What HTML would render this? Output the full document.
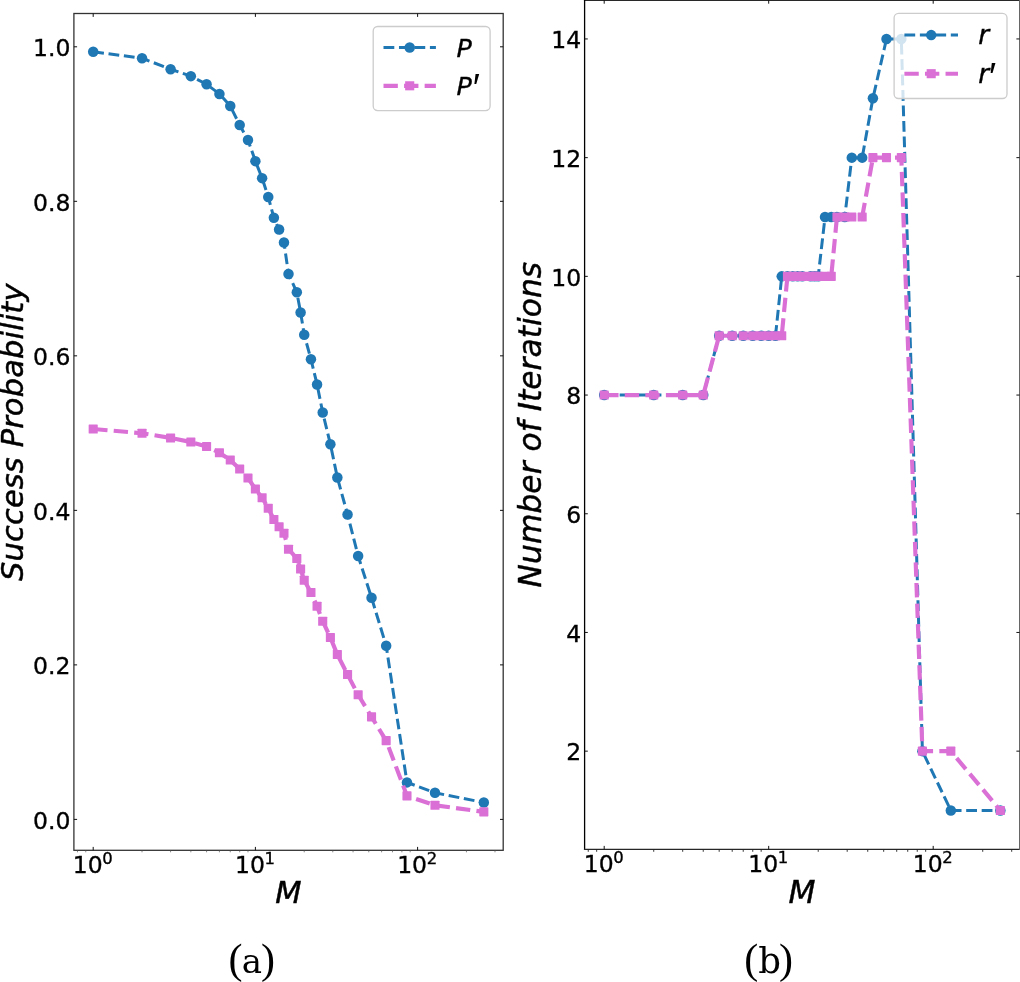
<!DOCTYPE html>
<html lang="en"><head><meta charset="utf-8"><title>Success probability and number of iterations versus M</title>
<style>html,body{margin:0;padding:0;background:#fff}svg{display:block}</style></head>
<body>
<svg width="1020" height="982" viewBox="0 0 1020 982">
<rect width="1020" height="982" fill="#fff"/>
<g>
<polyline points="93.20,51.74 142.03,58.23 170.59,69.21 190.85,76.16 206.57,84.27 219.42,93.93 230.27,105.98 239.68,124.99 247.98,139.98 255.40,161.14 262.11,178.14 268.24,196.99 273.88,217.78 279.10,229.52 283.96,242.50 288.51,274.02 296.81,292.26 300.61,312.50 304.23,334.75 310.94,359.24 317.07,384.50 322.71,412.47 330.40,444.23 337.34,477.52 347.56,514.53 358.15,556.02 371.54,597.74 386.16,645.72 406.98,782.39 434.99,792.82 483.82,802.48" fill="none" stroke="#1f77b4" stroke-width="3.0" stroke-dasharray="10.80 4.67" stroke-linejoin="round"/>
<circle cx="93.20" cy="51.74" r="5.25" fill="#1f77b4"/>
<circle cx="142.03" cy="58.23" r="5.25" fill="#1f77b4"/>
<circle cx="170.59" cy="69.21" r="5.25" fill="#1f77b4"/>
<circle cx="190.85" cy="76.16" r="5.25" fill="#1f77b4"/>
<circle cx="206.57" cy="84.27" r="5.25" fill="#1f77b4"/>
<circle cx="219.42" cy="93.93" r="5.25" fill="#1f77b4"/>
<circle cx="230.27" cy="105.98" r="5.25" fill="#1f77b4"/>
<circle cx="239.68" cy="124.99" r="5.25" fill="#1f77b4"/>
<circle cx="247.98" cy="139.98" r="5.25" fill="#1f77b4"/>
<circle cx="255.40" cy="161.14" r="5.25" fill="#1f77b4"/>
<circle cx="262.11" cy="178.14" r="5.25" fill="#1f77b4"/>
<circle cx="268.24" cy="196.99" r="5.25" fill="#1f77b4"/>
<circle cx="273.88" cy="217.78" r="5.25" fill="#1f77b4"/>
<circle cx="279.10" cy="229.52" r="5.25" fill="#1f77b4"/>
<circle cx="283.96" cy="242.50" r="5.25" fill="#1f77b4"/>
<circle cx="288.51" cy="274.02" r="5.25" fill="#1f77b4"/>
<circle cx="296.81" cy="292.26" r="5.25" fill="#1f77b4"/>
<circle cx="300.61" cy="312.50" r="5.25" fill="#1f77b4"/>
<circle cx="304.23" cy="334.75" r="5.25" fill="#1f77b4"/>
<circle cx="310.94" cy="359.24" r="5.25" fill="#1f77b4"/>
<circle cx="317.07" cy="384.50" r="5.25" fill="#1f77b4"/>
<circle cx="322.71" cy="412.47" r="5.25" fill="#1f77b4"/>
<circle cx="330.40" cy="444.23" r="5.25" fill="#1f77b4"/>
<circle cx="337.34" cy="477.52" r="5.25" fill="#1f77b4"/>
<circle cx="347.56" cy="514.53" r="5.25" fill="#1f77b4"/>
<circle cx="358.15" cy="556.02" r="5.25" fill="#1f77b4"/>
<circle cx="371.54" cy="597.74" r="5.25" fill="#1f77b4"/>
<circle cx="386.16" cy="645.72" r="5.25" fill="#1f77b4"/>
<circle cx="406.98" cy="782.39" r="5.25" fill="#1f77b4"/>
<circle cx="434.99" cy="792.82" r="5.25" fill="#1f77b4"/>
<circle cx="483.82" cy="802.48" r="5.25" fill="#1f77b4"/>
<polyline points="93.20,429.01 142.03,433.25 170.59,437.97 190.85,441.98 206.57,446.47 219.42,452.72 230.27,459.99 239.68,469.03 247.98,477.99 255.40,489.04 262.11,497.77 268.24,508.27 273.88,519.48 279.10,526.74 283.96,533.23 288.51,549.22 296.81,558.49 300.61,569.00 304.23,580.28 310.94,592.49 317.07,606.24 322.71,621.23 330.40,637.53 337.34,654.53 347.56,674.54 358.15,694.78 371.54,716.88 386.16,740.59 406.98,795.84 434.99,805.26 483.82,811.91" fill="none" stroke="#da70d6" stroke-width="4.15" stroke-dasharray="14.36 6.21" stroke-linejoin="round"/>
<rect x="88.65" y="424.46" width="9.1" height="9.1" rx="0.6" fill="#da70d6"/>
<rect x="137.48" y="428.70" width="9.1" height="9.1" rx="0.6" fill="#da70d6"/>
<rect x="166.04" y="433.42" width="9.1" height="9.1" rx="0.6" fill="#da70d6"/>
<rect x="186.30" y="437.43" width="9.1" height="9.1" rx="0.6" fill="#da70d6"/>
<rect x="202.02" y="441.92" width="9.1" height="9.1" rx="0.6" fill="#da70d6"/>
<rect x="214.87" y="448.17" width="9.1" height="9.1" rx="0.6" fill="#da70d6"/>
<rect x="225.72" y="455.44" width="9.1" height="9.1" rx="0.6" fill="#da70d6"/>
<rect x="235.13" y="464.48" width="9.1" height="9.1" rx="0.6" fill="#da70d6"/>
<rect x="243.43" y="473.44" width="9.1" height="9.1" rx="0.6" fill="#da70d6"/>
<rect x="250.85" y="484.49" width="9.1" height="9.1" rx="0.6" fill="#da70d6"/>
<rect x="257.56" y="493.22" width="9.1" height="9.1" rx="0.6" fill="#da70d6"/>
<rect x="263.69" y="503.72" width="9.1" height="9.1" rx="0.6" fill="#da70d6"/>
<rect x="269.33" y="514.93" width="9.1" height="9.1" rx="0.6" fill="#da70d6"/>
<rect x="274.55" y="522.19" width="9.1" height="9.1" rx="0.6" fill="#da70d6"/>
<rect x="279.41" y="528.68" width="9.1" height="9.1" rx="0.6" fill="#da70d6"/>
<rect x="283.96" y="544.67" width="9.1" height="9.1" rx="0.6" fill="#da70d6"/>
<rect x="292.26" y="553.94" width="9.1" height="9.1" rx="0.6" fill="#da70d6"/>
<rect x="296.06" y="564.45" width="9.1" height="9.1" rx="0.6" fill="#da70d6"/>
<rect x="299.68" y="575.73" width="9.1" height="9.1" rx="0.6" fill="#da70d6"/>
<rect x="306.39" y="587.94" width="9.1" height="9.1" rx="0.6" fill="#da70d6"/>
<rect x="312.52" y="601.69" width="9.1" height="9.1" rx="0.6" fill="#da70d6"/>
<rect x="318.16" y="616.68" width="9.1" height="9.1" rx="0.6" fill="#da70d6"/>
<rect x="325.85" y="632.98" width="9.1" height="9.1" rx="0.6" fill="#da70d6"/>
<rect x="332.79" y="649.98" width="9.1" height="9.1" rx="0.6" fill="#da70d6"/>
<rect x="343.01" y="669.99" width="9.1" height="9.1" rx="0.6" fill="#da70d6"/>
<rect x="353.60" y="690.23" width="9.1" height="9.1" rx="0.6" fill="#da70d6"/>
<rect x="366.99" y="712.33" width="9.1" height="9.1" rx="0.6" fill="#da70d6"/>
<rect x="381.61" y="736.04" width="9.1" height="9.1" rx="0.6" fill="#da70d6"/>
<rect x="402.43" y="791.29" width="9.1" height="9.1" rx="0.6" fill="#da70d6"/>
<rect x="430.44" y="800.71" width="9.1" height="9.1" rx="0.6" fill="#da70d6"/>
<rect x="479.27" y="807.36" width="9.1" height="9.1" rx="0.6" fill="#da70d6"/>
</g>
<rect x="73.9" y="13.5" width="429.29999999999995" height="836.8" fill="none" stroke="#333" stroke-width="1.3"/>
<path d="M93.20 850.3 v-3.4 M93.20 13.5 v3.4" stroke="#111" stroke-width="1" fill="none"/>
<text x="72.76" y="872.60" font-family="DejaVu Sans, Liberation Sans, sans-serif" font-size="23.5" fill="#000" stroke="#000" stroke-width="0.35">10<tspan dy="-8.8" dx="-0.4" font-size="16.45">0</tspan></text>
<path d="M255.40 850.3 v-3.4 M255.40 13.5 v3.4" stroke="#111" stroke-width="1" fill="none"/>
<text x="234.96" y="872.60" font-family="DejaVu Sans, Liberation Sans, sans-serif" font-size="23.5" fill="#000" stroke="#000" stroke-width="0.35">10<tspan dy="-8.8" dx="-0.4" font-size="16.45">1</tspan></text>
<path d="M417.60 850.3 v-3.4 M417.60 13.5 v3.4" stroke="#111" stroke-width="1" fill="none"/>
<text x="397.16" y="872.60" font-family="DejaVu Sans, Liberation Sans, sans-serif" font-size="23.5" fill="#000" stroke="#000" stroke-width="0.35">10<tspan dy="-8.8" dx="-0.4" font-size="16.45">2</tspan></text>
<path d="M77.48 850.3 v2.0" stroke="#555" stroke-width="0.7" fill="none"/>
<path d="M85.78 850.3 v2.0" stroke="#555" stroke-width="0.7" fill="none"/>
<path d="M142.03 850.3 v2.0" stroke="#555" stroke-width="0.7" fill="none"/>
<path d="M170.59 850.3 v2.0" stroke="#555" stroke-width="0.7" fill="none"/>
<path d="M190.85 850.3 v2.0" stroke="#555" stroke-width="0.7" fill="none"/>
<path d="M206.57 850.3 v2.0" stroke="#555" stroke-width="0.7" fill="none"/>
<path d="M219.42 850.3 v2.0" stroke="#555" stroke-width="0.7" fill="none"/>
<path d="M230.27 850.3 v2.0" stroke="#555" stroke-width="0.7" fill="none"/>
<path d="M239.68 850.3 v2.0" stroke="#555" stroke-width="0.7" fill="none"/>
<path d="M247.98 850.3 v2.0" stroke="#555" stroke-width="0.7" fill="none"/>
<path d="M304.23 850.3 v2.0" stroke="#555" stroke-width="0.7" fill="none"/>
<path d="M332.79 850.3 v2.0" stroke="#555" stroke-width="0.7" fill="none"/>
<path d="M353.05 850.3 v2.0" stroke="#555" stroke-width="0.7" fill="none"/>
<path d="M368.77 850.3 v2.0" stroke="#555" stroke-width="0.7" fill="none"/>
<path d="M381.62 850.3 v2.0" stroke="#555" stroke-width="0.7" fill="none"/>
<path d="M392.47 850.3 v2.0" stroke="#555" stroke-width="0.7" fill="none"/>
<path d="M401.88 850.3 v2.0" stroke="#555" stroke-width="0.7" fill="none"/>
<path d="M410.18 850.3 v2.0" stroke="#555" stroke-width="0.7" fill="none"/>
<path d="M466.43 850.3 v2.0" stroke="#555" stroke-width="0.7" fill="none"/>
<path d="M494.99 850.3 v2.0" stroke="#555" stroke-width="0.7" fill="none"/>
<path d="M73.9 819.40 h3.2 M503.2 819.40 h-3.2" stroke="#111" stroke-width="1" fill="none"/>
<text x="70.40" y="828.70" text-anchor="end" font-family="DejaVu Sans, Liberation Sans, sans-serif" font-size="23.5" fill="#000" stroke="#000" stroke-width="0.35">0.0</text>
<path d="M73.9 664.88 h3.2 M503.2 664.88 h-3.2" stroke="#111" stroke-width="1" fill="none"/>
<text x="70.40" y="674.18" text-anchor="end" font-family="DejaVu Sans, Liberation Sans, sans-serif" font-size="23.5" fill="#000" stroke="#000" stroke-width="0.35">0.2</text>
<path d="M73.9 510.36 h3.2 M503.2 510.36 h-3.2" stroke="#111" stroke-width="1" fill="none"/>
<text x="70.40" y="519.66" text-anchor="end" font-family="DejaVu Sans, Liberation Sans, sans-serif" font-size="23.5" fill="#000" stroke="#000" stroke-width="0.35">0.4</text>
<path d="M73.9 355.84 h3.2 M503.2 355.84 h-3.2" stroke="#111" stroke-width="1" fill="none"/>
<text x="70.40" y="365.14" text-anchor="end" font-family="DejaVu Sans, Liberation Sans, sans-serif" font-size="23.5" fill="#000" stroke="#000" stroke-width="0.35">0.6</text>
<path d="M73.9 201.32 h3.2 M503.2 201.32 h-3.2" stroke="#111" stroke-width="1" fill="none"/>
<text x="70.40" y="210.62" text-anchor="end" font-family="DejaVu Sans, Liberation Sans, sans-serif" font-size="23.5" fill="#000" stroke="#000" stroke-width="0.35">0.8</text>
<path d="M73.9 46.80 h3.2 M503.2 46.80 h-3.2" stroke="#111" stroke-width="1" fill="none"/>
<text x="70.40" y="56.10" text-anchor="end" font-family="DejaVu Sans, Liberation Sans, sans-serif" font-size="23.5" fill="#000" stroke="#000" stroke-width="0.35">1.0</text>
<text transform="translate(23.4,580.9) rotate(-90)" font-family="DejaVu Sans, Liberation Sans, sans-serif" font-style="italic" font-size="30.5" textLength="297.4" lengthAdjust="spacing" fill="#000" stroke="#000" stroke-width="0.45">Success Probability</text>
<text x="288.4" y="902.8" text-anchor="middle" font-family="DejaVu Sans, Liberation Sans, sans-serif" font-style="italic" font-size="30.5" fill="#000" stroke="#000" stroke-width="0.45">M</text>
<rect x="373.2" y="26.5" width="116.90000000000003" height="84.1" rx="4.5" ry="4.5" fill="#fff" fill-opacity="0.8" stroke="#ccc" stroke-width="1.3"/>
<path d="M383.5 47.5 H435.9" stroke="#1f77b4" stroke-width="3.0" stroke-dasharray="10.80 4.67" fill="none"/>
<circle cx="409.7" cy="47.5" r="5.25" fill="#1f77b4"/>
<path d="M383.5 85.8 H435.9" stroke="#da70d6" stroke-width="4.15" stroke-dasharray="14.36 6.21" fill="none"/>
<rect x="405.15" y="81.25" width="9.1" height="9.1" fill="#da70d6"/>
<text x="456.6" y="56.7" font-family="DejaVu Sans, Liberation Sans, sans-serif" font-style="italic" font-size="25.4" fill="#000" stroke="#000" stroke-width="0.35">P</text>
<text x="456.6" y="94.8" font-family="DejaVu Sans, Liberation Sans, sans-serif" font-style="italic" font-size="25.4" fill="#000" stroke="#000" stroke-width="0.35">P<tspan x="471.0" y="101.0" font-family="Liberation Sans, DejaVu Sans, sans-serif" font-size="38" font-style="italic" stroke="none">′</tspan></text>
<g>
<polyline points="604.20,395.05 653.72,395.05 682.69,395.05 703.24,395.05 719.18,335.70 732.21,335.70 743.22,335.70 752.76,335.70 761.17,335.70 768.70,335.70 775.51,335.70 781.73,276.35 787.44,276.35 792.74,276.35 797.67,276.35 802.28,276.35 810.69,276.35 814.55,276.35 818.22,276.35 825.03,217.00 831.24,217.00 836.96,217.00 844.76,217.00 851.80,157.65 862.17,157.65 872.91,98.30 886.48,38.95 901.32,38.95 922.42,751.15 950.84,810.50 1000.36,810.50" fill="none" stroke="#1f77b4" stroke-width="3.0" stroke-dasharray="10.80 4.67" stroke-linejoin="round"/>
<circle cx="604.20" cy="395.05" r="5.25" fill="#1f77b4"/>
<circle cx="653.72" cy="395.05" r="5.25" fill="#1f77b4"/>
<circle cx="682.69" cy="395.05" r="5.25" fill="#1f77b4"/>
<circle cx="703.24" cy="395.05" r="5.25" fill="#1f77b4"/>
<circle cx="719.18" cy="335.70" r="5.25" fill="#1f77b4"/>
<circle cx="732.21" cy="335.70" r="5.25" fill="#1f77b4"/>
<circle cx="743.22" cy="335.70" r="5.25" fill="#1f77b4"/>
<circle cx="752.76" cy="335.70" r="5.25" fill="#1f77b4"/>
<circle cx="761.17" cy="335.70" r="5.25" fill="#1f77b4"/>
<circle cx="768.70" cy="335.70" r="5.25" fill="#1f77b4"/>
<circle cx="775.51" cy="335.70" r="5.25" fill="#1f77b4"/>
<circle cx="781.73" cy="276.35" r="5.25" fill="#1f77b4"/>
<circle cx="787.44" cy="276.35" r="5.25" fill="#1f77b4"/>
<circle cx="792.74" cy="276.35" r="5.25" fill="#1f77b4"/>
<circle cx="797.67" cy="276.35" r="5.25" fill="#1f77b4"/>
<circle cx="802.28" cy="276.35" r="5.25" fill="#1f77b4"/>
<circle cx="810.69" cy="276.35" r="5.25" fill="#1f77b4"/>
<circle cx="814.55" cy="276.35" r="5.25" fill="#1f77b4"/>
<circle cx="818.22" cy="276.35" r="5.25" fill="#1f77b4"/>
<circle cx="825.03" cy="217.00" r="5.25" fill="#1f77b4"/>
<circle cx="831.24" cy="217.00" r="5.25" fill="#1f77b4"/>
<circle cx="836.96" cy="217.00" r="5.25" fill="#1f77b4"/>
<circle cx="844.76" cy="217.00" r="5.25" fill="#1f77b4"/>
<circle cx="851.80" cy="157.65" r="5.25" fill="#1f77b4"/>
<circle cx="862.17" cy="157.65" r="5.25" fill="#1f77b4"/>
<circle cx="872.91" cy="98.30" r="5.25" fill="#1f77b4"/>
<circle cx="886.48" cy="38.95" r="5.25" fill="#1f77b4"/>
<circle cx="901.32" cy="38.95" r="5.25" fill="#1f77b4"/>
<circle cx="922.42" cy="751.15" r="5.25" fill="#1f77b4"/>
<circle cx="950.84" cy="810.50" r="5.25" fill="#1f77b4"/>
<circle cx="1000.36" cy="810.50" r="5.25" fill="#1f77b4"/>
<polyline points="604.20,395.05 653.72,395.05 682.69,395.05 703.24,395.05 719.18,335.70 732.21,335.70 743.22,335.70 752.76,335.70 761.17,335.70 768.70,335.70 775.51,335.70 781.73,335.70 787.44,276.35 792.74,276.35 797.67,276.35 802.28,276.35 810.69,276.35 814.55,276.35 818.22,276.35 825.03,276.35 831.24,276.35 836.96,217.00 844.76,217.00 851.80,217.00 862.17,217.00 872.91,157.65 886.48,157.65 901.32,157.65 922.42,751.15 950.84,751.15 1000.36,810.50" fill="none" stroke="#da70d6" stroke-width="4.15" stroke-dasharray="14.36 6.21" stroke-linejoin="round"/>
<rect x="599.65" y="390.50" width="9.1" height="9.1" rx="0.6" fill="#da70d6"/>
<rect x="649.17" y="390.50" width="9.1" height="9.1" rx="0.6" fill="#da70d6"/>
<rect x="678.14" y="390.50" width="9.1" height="9.1" rx="0.6" fill="#da70d6"/>
<rect x="698.69" y="390.50" width="9.1" height="9.1" rx="0.6" fill="#da70d6"/>
<rect x="714.63" y="331.15" width="9.1" height="9.1" rx="0.6" fill="#da70d6"/>
<rect x="727.66" y="331.15" width="9.1" height="9.1" rx="0.6" fill="#da70d6"/>
<rect x="738.67" y="331.15" width="9.1" height="9.1" rx="0.6" fill="#da70d6"/>
<rect x="748.21" y="331.15" width="9.1" height="9.1" rx="0.6" fill="#da70d6"/>
<rect x="756.62" y="331.15" width="9.1" height="9.1" rx="0.6" fill="#da70d6"/>
<rect x="764.15" y="331.15" width="9.1" height="9.1" rx="0.6" fill="#da70d6"/>
<rect x="770.96" y="331.15" width="9.1" height="9.1" rx="0.6" fill="#da70d6"/>
<rect x="777.18" y="331.15" width="9.1" height="9.1" rx="0.6" fill="#da70d6"/>
<rect x="782.89" y="271.80" width="9.1" height="9.1" rx="0.6" fill="#da70d6"/>
<rect x="788.19" y="271.80" width="9.1" height="9.1" rx="0.6" fill="#da70d6"/>
<rect x="793.12" y="271.80" width="9.1" height="9.1" rx="0.6" fill="#da70d6"/>
<rect x="797.73" y="271.80" width="9.1" height="9.1" rx="0.6" fill="#da70d6"/>
<rect x="806.14" y="271.80" width="9.1" height="9.1" rx="0.6" fill="#da70d6"/>
<rect x="810.00" y="271.80" width="9.1" height="9.1" rx="0.6" fill="#da70d6"/>
<rect x="813.67" y="271.80" width="9.1" height="9.1" rx="0.6" fill="#da70d6"/>
<rect x="820.48" y="271.80" width="9.1" height="9.1" rx="0.6" fill="#da70d6"/>
<rect x="826.69" y="271.80" width="9.1" height="9.1" rx="0.6" fill="#da70d6"/>
<rect x="832.41" y="212.45" width="9.1" height="9.1" rx="0.6" fill="#da70d6"/>
<rect x="840.21" y="212.45" width="9.1" height="9.1" rx="0.6" fill="#da70d6"/>
<rect x="847.25" y="212.45" width="9.1" height="9.1" rx="0.6" fill="#da70d6"/>
<rect x="857.62" y="212.45" width="9.1" height="9.1" rx="0.6" fill="#da70d6"/>
<rect x="868.36" y="153.10" width="9.1" height="9.1" rx="0.6" fill="#da70d6"/>
<rect x="881.93" y="153.10" width="9.1" height="9.1" rx="0.6" fill="#da70d6"/>
<rect x="896.77" y="153.10" width="9.1" height="9.1" rx="0.6" fill="#da70d6"/>
<rect x="917.87" y="746.60" width="9.1" height="9.1" rx="0.6" fill="#da70d6"/>
<rect x="946.29" y="746.60" width="9.1" height="9.1" rx="0.6" fill="#da70d6"/>
<rect x="995.81" y="805.95" width="9.1" height="9.1" rx="0.6" fill="#da70d6"/>
</g>
<path d="M584.6 0 V849.9" stroke="#000" stroke-width="1.3" fill="none"/>
<path d="M583.95 0.45 H1020" stroke="#000" stroke-width="0.9" fill="none"/>
<path d="M583.95 849.3 H1020" stroke="#262626" stroke-width="1.2" fill="none"/>
<path d="M1019.5 0 V849.9" stroke="#666" stroke-width="1" fill="none"/>
<path d="M604.20 849.3 v-3.4 M604.20 0.3 v3.4" stroke="#111" stroke-width="1" fill="none"/>
<text x="583.76" y="871.80" font-family="DejaVu Sans, Liberation Sans, sans-serif" font-size="23.5" fill="#000" stroke="#000" stroke-width="0.35">10<tspan dy="-8.8" dx="-0.4" font-size="16.45">0</tspan></text>
<path d="M768.70 849.3 v-3.4 M768.70 0.3 v3.4" stroke="#111" stroke-width="1" fill="none"/>
<text x="748.26" y="871.80" font-family="DejaVu Sans, Liberation Sans, sans-serif" font-size="23.5" fill="#000" stroke="#000" stroke-width="0.35">10<tspan dy="-8.8" dx="-0.4" font-size="16.45">1</tspan></text>
<path d="M933.20 849.3 v-3.4 M933.20 0.3 v3.4" stroke="#111" stroke-width="1" fill="none"/>
<text x="912.76" y="871.80" font-family="DejaVu Sans, Liberation Sans, sans-serif" font-size="23.5" fill="#000" stroke="#000" stroke-width="0.35">10<tspan dy="-8.8" dx="-0.4" font-size="16.45">2</tspan></text>
<path d="M588.26 849.3 v2.5" stroke="#222" stroke-width="0.9" fill="none"/>
<path d="M596.67 849.3 v2.5" stroke="#222" stroke-width="0.9" fill="none"/>
<path d="M653.72 849.3 v2.5" stroke="#222" stroke-width="0.9" fill="none"/>
<path d="M682.69 849.3 v2.5" stroke="#222" stroke-width="0.9" fill="none"/>
<path d="M703.24 849.3 v2.5" stroke="#222" stroke-width="0.9" fill="none"/>
<path d="M719.18 849.3 v2.5" stroke="#222" stroke-width="0.9" fill="none"/>
<path d="M732.21 849.3 v2.5" stroke="#222" stroke-width="0.9" fill="none"/>
<path d="M743.22 849.3 v2.5" stroke="#222" stroke-width="0.9" fill="none"/>
<path d="M752.76 849.3 v2.5" stroke="#222" stroke-width="0.9" fill="none"/>
<path d="M761.17 849.3 v2.5" stroke="#222" stroke-width="0.9" fill="none"/>
<path d="M818.22 849.3 v2.5" stroke="#222" stroke-width="0.9" fill="none"/>
<path d="M847.19 849.3 v2.5" stroke="#222" stroke-width="0.9" fill="none"/>
<path d="M867.74 849.3 v2.5" stroke="#222" stroke-width="0.9" fill="none"/>
<path d="M883.68 849.3 v2.5" stroke="#222" stroke-width="0.9" fill="none"/>
<path d="M896.71 849.3 v2.5" stroke="#222" stroke-width="0.9" fill="none"/>
<path d="M907.72 849.3 v2.5" stroke="#222" stroke-width="0.9" fill="none"/>
<path d="M917.26 849.3 v2.5" stroke="#222" stroke-width="0.9" fill="none"/>
<path d="M925.67 849.3 v2.5" stroke="#222" stroke-width="0.9" fill="none"/>
<path d="M982.72 849.3 v2.5" stroke="#222" stroke-width="0.9" fill="none"/>
<path d="M1011.69 849.3 v2.5" stroke="#222" stroke-width="0.9" fill="none"/>
<path d="M584.6 751.15 h3.2 M1019.6 751.15 h-3.2" stroke="#111" stroke-width="1" fill="none"/>
<text x="581.10" y="760.45" text-anchor="end" font-family="DejaVu Sans, Liberation Sans, sans-serif" font-size="23.5" fill="#000" stroke="#000" stroke-width="0.35">2</text>
<path d="M584.6 632.45 h3.2 M1019.6 632.45 h-3.2" stroke="#111" stroke-width="1" fill="none"/>
<text x="581.10" y="641.75" text-anchor="end" font-family="DejaVu Sans, Liberation Sans, sans-serif" font-size="23.5" fill="#000" stroke="#000" stroke-width="0.35">4</text>
<path d="M584.6 513.75 h3.2 M1019.6 513.75 h-3.2" stroke="#111" stroke-width="1" fill="none"/>
<text x="581.10" y="523.05" text-anchor="end" font-family="DejaVu Sans, Liberation Sans, sans-serif" font-size="23.5" fill="#000" stroke="#000" stroke-width="0.35">6</text>
<path d="M584.6 395.05 h3.2 M1019.6 395.05 h-3.2" stroke="#111" stroke-width="1" fill="none"/>
<text x="581.10" y="404.35" text-anchor="end" font-family="DejaVu Sans, Liberation Sans, sans-serif" font-size="23.5" fill="#000" stroke="#000" stroke-width="0.35">8</text>
<path d="M584.6 276.35 h3.2 M1019.6 276.35 h-3.2" stroke="#111" stroke-width="1" fill="none"/>
<text x="581.10" y="285.65" text-anchor="end" font-family="DejaVu Sans, Liberation Sans, sans-serif" font-size="23.5" fill="#000" stroke="#000" stroke-width="0.35">10</text>
<path d="M584.6 157.65 h3.2 M1019.6 157.65 h-3.2" stroke="#111" stroke-width="1" fill="none"/>
<text x="581.10" y="166.95" text-anchor="end" font-family="DejaVu Sans, Liberation Sans, sans-serif" font-size="23.5" fill="#000" stroke="#000" stroke-width="0.35">12</text>
<path d="M584.6 38.95 h3.2 M1019.6 38.95 h-3.2" stroke="#111" stroke-width="1" fill="none"/>
<text x="581.10" y="48.25" text-anchor="end" font-family="DejaVu Sans, Liberation Sans, sans-serif" font-size="23.5" fill="#000" stroke="#000" stroke-width="0.35">14</text>
<text transform="translate(541.0,587.4) rotate(-90)" font-family="DejaVu Sans, Liberation Sans, sans-serif" font-style="italic" font-size="31.3" textLength="325.5" lengthAdjust="spacing" fill="#000" stroke="#000" stroke-width="0.45">Number of Iterations</text>
<text x="802" y="902.7" text-anchor="middle" font-family="DejaVu Sans, Liberation Sans, sans-serif" font-style="italic" font-size="31.3" fill="#000" stroke="#000" stroke-width="0.45">M</text>
<rect x="894.1" y="13.3" width="112.89999999999998" height="85.2" rx="4.5" ry="4.5" fill="#fff" fill-opacity="0.8" stroke="#ccc" stroke-width="1.3"/>
<path d="M904.4 35.1 H958.0" stroke="#1f77b4" stroke-width="3.0" stroke-dasharray="10.80 4.67" fill="none"/>
<circle cx="931.2" cy="35.1" r="5.25" fill="#1f77b4"/>
<path d="M904.4 73.7 H958.0" stroke="#da70d6" stroke-width="4.15" stroke-dasharray="14.36 6.21" fill="none"/>
<rect x="926.6500000000001" y="69.15" width="9.1" height="9.1" fill="#da70d6"/>
<text x="978.3" y="44.1" font-family="DejaVu Sans, Liberation Sans, sans-serif" font-style="italic" font-size="26.5" fill="#000" stroke="#000" stroke-width="0.35">r</text>
<text x="978.3" y="82.6" font-family="DejaVu Sans, Liberation Sans, sans-serif" font-style="italic" font-size="26.5" fill="#000" stroke="#000" stroke-width="0.35">r<tspan x="987.2" y="89.8" font-family="Liberation Sans, DejaVu Sans, sans-serif" font-size="38" font-style="italic" stroke="none">′</tspan></text>
<text y="972.8" fill="#000"><tspan x="228.4" font-family="Liberation Serif, DejaVu Serif, serif" font-size="42">(</tspan><tspan x="241.7" font-family="DejaVu Serif, Liberation Serif, serif" font-size="34">a</tspan><tspan x="260.9" font-family="Liberation Serif, DejaVu Serif, serif" font-size="42">)</tspan></text>
<text y="972.8" fill="#000"><tspan x="744.3" font-family="Liberation Serif, DejaVu Serif, serif" font-size="42">(</tspan><tspan x="758.2" font-family="DejaVu Serif, Liberation Serif, serif" font-size="35.5">b</tspan><tspan x="779.0" font-family="Liberation Serif, DejaVu Serif, serif" font-size="42">)</tspan></text>
</svg>
</body></html>
